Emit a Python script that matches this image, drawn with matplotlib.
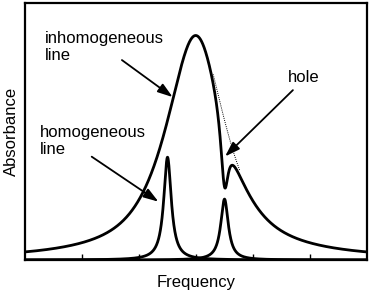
import numpy as np
import matplotlib.pyplot as plt

plt.rcParams['font.family'] = ['Liberation Sans', 'DejaVu Sans']

# inhomogeneous line (x in tick units, y in axis fraction)
inhom_center = 3.0
inhom_height = 0.88
inhom_hwhm = 0.63
inhom_gauss_frac = 0.15

# homogeneous lines
homog_centers = [2.5, 3.5]
homog_heights = [0.40, 0.237]
homog_hwhm = 0.08

# burned hole
hole_center = 3.5
hole_depth = 0.26
hole_hwhm = 0.08
hole_dotted_span = [3.3, 3.77]

x_ticks = [1, 2, 3, 4, 5]


def lorentz(x, x0, g):
    return 1.0 / (1.0 + ((x - x0) / g) ** 2)


def inhom_line(x):
    gauss = np.exp(-np.log(2) * ((x - inhom_center) / inhom_hwhm) ** 2)
    shape = (1 - inhom_gauss_frac) * lorentz(x, inhom_center, inhom_hwhm) + inhom_gauss_frac * gauss
    return inhom_height * shape


def plot_hole_burning(save_to_png=True):
    fig = plt.figure(figsize=(3.69, 2.92), dpi=100)
    ax = fig.add_axes([0.0678, 0.1096, 0.9268, 0.8801])

    x = np.linspace(0, 6, 2000)
    y_inhom = inhom_line(x)
    y_burned = y_inhom - hole_depth * lorentz(x, hole_center, hole_hwhm)

    ax.plot(x, y_burned, color="black", lw=2.0)

    # original shape under the hole
    xd = np.linspace(hole_dotted_span[0], hole_dotted_span[1], 100)
    ax.plot(xd, inhom_line(xd), color="black", lw=0.7, ls=(0, (1, 1.2)))

    # homogeneous lines
    for c, h in zip(homog_centers, homog_heights):
        ax.plot(x, h * lorentz(x, c, homog_hwhm), color="black", lw=2.0)

    arrow = dict(arrowstyle="-|>,head_length=0.9,head_width=0.3", color="black",
                 lw=1.3, shrinkA=0, shrinkB=0)
    ax.annotate("", xy=(2.59, 0.634), xytext=(1.70, 0.778), arrowprops=arrow)
    ax.annotate("", xy=(3.51, 0.403), xytext=(4.70, 0.661), arrowprops=arrow)
    ax.annotate("", xy=(2.34, 0.227), xytext=(1.17, 0.402), arrowprops=arrow)

    ax.text(0.35, 0.89, "inhomogeneous\nline", fontsize=12, va="top", ha="left", linespacing=1.15)
    ax.text(4.61, 0.74, "hole", fontsize=12, va="top", ha="left")
    ax.text(0.26, 0.525, "homogeneous\nline", fontsize=12, va="top", ha="left", linespacing=1.15)

    ax.set_xlim(0, 6)
    ax.set_ylim(0, 1)
    ax.set_xticks(x_ticks)
    ax.set_xticklabels([])
    ax.set_yticks([])
    ax.tick_params(axis="x", direction="in", length=4.5, width=1.0)
    for s in ax.spines.values():
        s.set_linewidth(1.6)

    ax.set_xlabel("Frequency", fontsize=12, labelpad=7)
    ax.set_ylabel("Absorbance", fontsize=12, labelpad=4)

    if save_to_png == True:
        fig.savefig("out.png", dpi=100)
        return
    plt.show()


if __name__ == "__main__":
    plot_hole_burning(save_to_png=True)
